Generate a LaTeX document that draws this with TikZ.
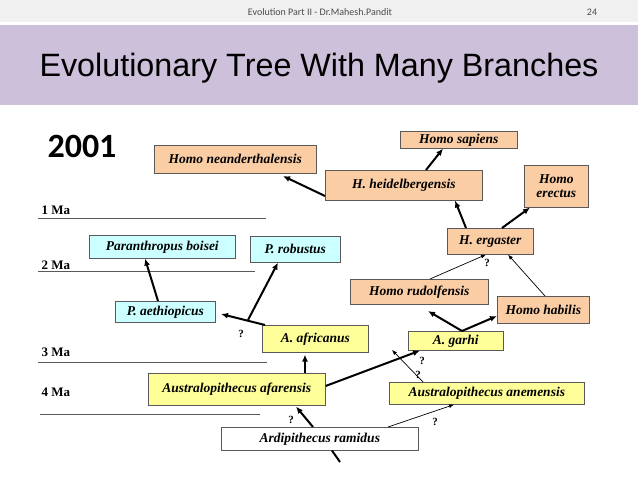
\documentclass[tikz,border=0pt]{standalone}
\usepackage{fontspec}
\setmainfont{Liberation Serif}
\newfontfamily\hsans{Liberation Sans}
\newfontfamily\csans{Carlito}
\begin{document}
\begin{tikzpicture}[x=1pt,y=-1pt,
 box/.style={draw=gray!70!black,line width=0.6pt,inner sep=0pt,anchor=north west,font=\fontsize{13.5}{14}\selectfont\bfseries\itshape,align=center},
 org/.style={box,fill=orgc},cy/.style={box,fill=cyc},ye/.style={box,fill=yec},wh/.style={box,fill=white},
 ar/.style={line width=2pt,-{Latex[length=7pt,width=6pt]}},
 th/.style={line width=0.7pt,-{Latex[length=5pt,width=4pt]}},
 lbl/.style={font=\fontsize{13}{14}\selectfont\bfseries,anchor=west},
 q/.style={font=\fontsize{11}{12}\selectfont\bfseries}]
\usetikzlibrary{arrows.meta}
\definecolor{orgc}{HTML}{FBCDA5}\definecolor{cyc}{HTML}{CCFFFF}\definecolor{yec}{HTML}{FFFF99}
\useasboundingbox (0,0) rectangle (638,478);
\fill[white] (0,0) rectangle (638,478);
\fill[gray!12] (0,0) rectangle (638,22);
\node[font=\csans\fontsize{10}{11}\selectfont,text=gray!60!black] (hd) at (320,12) {Evolution Part II - Dr.Mahesh.Pandit};
\node[font=\csans\fontsize{10}{11}\selectfont,text=gray!60!black] (pg) at (592,12) {24};
\fill[fill={rgb,255:red,204;green,192;blue,218}] (0,25) rectangle (638,105);
\node[font=\hsans\fontsize{32.3}{34}\selectfont] (ti) at (319,68) {Evolutionary Tree With Many Branches};
\node[font=\csans\bfseries\fontsize{34}{36}\selectfont,anchor=west] (yr) at (44,146) {2001};
% boxes
\node[org,minimum width=117pt,minimum height=17pt] (sap) at (400,131) {Homo sapiens};
\node[org,minimum width=162pt,minimum height=28pt] (nea) at (154,145) {Homo neanderthalensis};
\node[org,minimum width=157pt,minimum height=30pt] (hei) at (325,170) {H. heidelbergensis};
\node[org,minimum width=64pt,minimum height=42pt] (ere) at (524,165) {Homo\\erectus};
\node[org,minimum width=86pt,minimum height=26pt] (erg) at (447,228) {H. ergaster};
\node[org,minimum width=138pt,minimum height=25pt] (rud) at (350,279) {Homo rudolfensis};
\node[org,minimum width=92pt,minimum height=27pt] (hab) at (497,296) {Homo habilis};
\node[cy,minimum width=146pt,minimum height=23pt] (boi) at (89,235) {Paranthropus boisei};
\node[cy,minimum width=90pt,minimum height=26pt] (rob) at (250,236) {P. robustus};
\node[cy,minimum width=100pt,minimum height=21pt] (aet) at (115,301) {P. aethiopicus};
\node[ye,minimum width=106pt,minimum height=27pt] (afr) at (262,325) {A. africanus};
\node[ye,minimum width=95pt,minimum height=19pt] (gar) at (408,331) {A. garhi};
\node[ye,minimum width=177pt,minimum height=32pt] (afa) at (148,373) {Australopithecus afarensis};
\node[ye,minimum width=195pt,minimum height=22pt] (ane) at (389,382) {Australopithecus anemensis};
\node[wh,minimum width=197pt,minimum height=23pt] (ram) at (221,427) {Ardipithecus ramidus};
% time scale
\draw[gray!70!black,line width=0.7pt] (38,218) coordinate (l1a) -- (266,218) coordinate (l1b);
\draw[gray!70!black,line width=0.7pt] (38,271) coordinate (l2a) -- (255,271) coordinate (l2b);
\draw[gray!70!black,line width=0.7pt] (38,362) coordinate (l3a) -- (267,362) coordinate (l3b);
\draw[gray!70!black,line width=0.7pt] (40,414) coordinate (l4a) -- (260,414) coordinate (l4b);
\node[lbl] (m1) at (38,210) {1 Ma};
\node[lbl] (m2) at (38,265) {2 Ma};
\node[lbl] (m3) at (38,352) {3 Ma};
\node[lbl] (m4) at (38,392) {4 Ma};
% arrows
\draw[ar] (hei.west|-0,196) -- (283,176);
\draw[ar] ([xshift=101pt]hei.north west) -- ([xshift=43pt]sap.south west);
\draw[ar] ([xshift=19pt]erg.north west) -- ([xshift=130pt]hei.south west);
\draw[ar] ([xshift=55pt]erg.north west) -- ([xshift=6pt]ere.south west);
\draw[th] ([xshift=80pt]rud.north west) -- ([xshift=39pt]erg.south west);
\draw[th] ([xshift=48pt]hab.north west) -- ([xshift=61pt]erg.south west);
\coordinate (gt) at (462,331);
\coordinate (rt) at (428,311);
\coordinate (ht) at (497,316);
\draw[ar] (gt) -- (rt);
\draw[ar] (gt) -- (ht);
\draw[ar] (afa.east|-0,386) -- ([xshift=12pt]gar.south west);
\draw[th] ([xshift=34pt]ane.north west) -- (392,350);
\draw[ar] ([xshift=157pt]afa.north west) -- ([xshift=43pt,yshift=-2pt]afr.south west);
\coordinate (ab) at (248,320);
\draw[ar] ([xshift=3pt]afr.north west) -- (221,314);
\draw[ar] (ab) -- ([xshift=28pt]rob.south west);
\draw[ar] ([xshift=43pt]aet.north west) -- ([xshift=56pt]boi.south west);
\draw[ar] ([xshift=92pt]ram.north west) -- ([xshift=148pt,yshift=-1pt]afa.south west);
\draw[th] ([xshift=167pt]ram.north west) -- ([xshift=65pt]ane.south west);
\coordinate (rb) at (340,462);
\draw[line width=2pt] (rb) -- ([xshift=111pt]ram.south west);
% question marks
\node[q] (q1) at (241,334) {?};
\node[q] (q2) at (487,263) {?};
\node[q] (q3) at (422,361) {?};
\node[q] (q4) at (418,375) {?};
\node[q] (q5) at (291,420) {?};
\node[q] (q6) at (435,422) {?};
\end{tikzpicture}
\end{document}
